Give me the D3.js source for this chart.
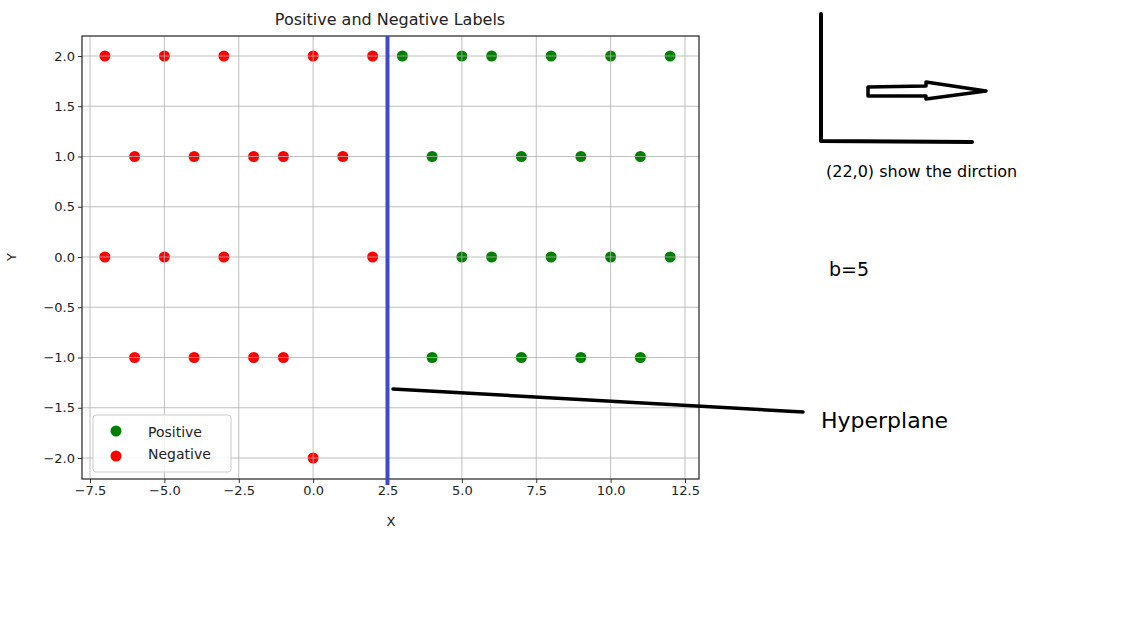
<!DOCTYPE html>
<html><head><meta charset="utf-8">
<script src="https://cdn.jsdelivr.net/npm/d3@7"></script>
<style>body{margin:0;background:#fff}text{font-family:"DejaVu Sans",sans-serif}</style>
</head><body>
<svg id="c" width="1129" height="638"></svg>
<script>
const posX=[3,5,6,8,10,12, 4,7,9,11, 5,6,8,10,12, 4,7,9,11];
const posY=[2,2,2,2,2,2, 1,1,1,1, 0,0,0,0,0, -1,-1,-1,-1];
const negX=[-7,-5,-3,0,2, -6,-4,-2,-1,1, -7,-5,-3,2, -6,-4,-2,-1, 0];
const negY=[2,2,2,2,2, 1,1,1,1,1, 0,0,0,0, -1,-1,-1,-1, -2];
const xTicks=[-7.5,-5,-2.5,0,2.5,5,7.5,10,12.5];
const yTicks=[-2,-1.5,-1,-0.5,0,0.5,1,1.5,2];
const hyperX=2.5;

const svg=d3.select("#c");
const L=82,R=699,T=36,B=479;
const x=d3.scaleLinear().domain([-7.5,12.5]).range([90,685]);
const y=d3.scaleLinear().domain([-2,2]).range([458,56]);
const fmt=d=>d3.format(".1f")(d).replace("-","\u2212");

const ax=svg.append("g").attr("transform",`translate(0,${B})`).call(d3.axisBottom(x).tickValues(xTicks).tickFormat(fmt).tickSizeOuter(0).tickSize(4));
const ay=svg.append("g").attr("transform",`translate(${L},0)`).call(d3.axisLeft(y).tickValues(yTicks).tickFormat(fmt).tickSizeOuter(0).tickSize(4));
[ax,ay].forEach(a=>{a.select(".domain").remove();a.selectAll("text").attr("font-size",13).attr("fill","#222");a.selectAll("line").attr("stroke","#333");});

const pts=svg.append("g");
pts.selectAll(".p").data(posX).join("circle").attr("cx",d=>x(d)).attr("cy",(d,i)=>y(posY[i])).attr("r",5.5).attr("fill","green");
pts.selectAll(".n").data(negX).join("circle").attr("cx",d=>x(d)).attr("cy",(d,i)=>y(negY[i])).attr("r",5.5).attr("fill","red");

const g=svg.append("g").attr("stroke","#b0b0b0").attr("stroke-opacity",0.8).attr("stroke-width",1);
xTicks.forEach(t=>g.append("line").attr("x1",x(t)).attr("x2",x(t)).attr("y1",T).attr("y2",B));
yTicks.forEach(t=>g.append("line").attr("x1",L).attr("x2",R).attr("y1",y(t)).attr("y2",y(t)));

svg.append("rect").attr("x",L).attr("y",T).attr("width",R-L).attr("height",B-T).attr("fill","none").attr("stroke","#222").attr("stroke-width",1.2);

svg.append("text").attr("x",390).attr("y",25).attr("text-anchor","middle").attr("font-size",16).attr("fill","#222").text("Positive and Negative Labels");
svg.append("text").attr("x",391).attr("y",526).attr("text-anchor","middle").attr("font-size",13).attr("fill","#222").text("X");
svg.append("text").attr("transform","translate(16,257) rotate(-90)").attr("text-anchor","middle").attr("font-size",13).attr("fill","#222").text("Y");

// legend
const lg=svg.append("g");
lg.append("rect").attr("x",93).attr("y",415).attr("width",138).attr("height",57).attr("rx",3).attr("fill","#fff").attr("fill-opacity",0.85).attr("stroke","#ccc");
lg.append("circle").attr("cx",116).attr("cy",431).attr("r",5.5).attr("fill","green");
lg.append("circle").attr("cx",116).attr("cy",456).attr("r",5.5).attr("fill","red");
lg.append("text").attr("x",148).attr("y",433).attr("font-size",14).attr("fill","#222").attr("dominant-baseline","middle").text("Positive");
lg.append("text").attr("x",148).attr("y",455).attr("font-size",14).attr("fill","#222").attr("dominant-baseline","middle").text("Negative");

// hyperplane
svg.append("line").attr("x1",x(hyperX)).attr("x2",x(hyperX)).attr("y1",T).attr("y2",485).attr("stroke","#4049c8").attr("stroke-width",4);

// annotations
const an=svg.append("g").attr("stroke","#000").attr("fill","none").attr("stroke-linecap","round").attr("stroke-linejoin","round");
an.append("path").attr("d","M393,389 L803,412").attr("stroke-width",3.5);
an.append("path").attr("d","M821,14 L821,141 L972,142").attr("stroke-width",4);
an.append("path").attr("d","M868,87 L926,86 L926,82 L986,91 L926,99 L926,96 L868,96 Z").attr("stroke-width",3.5);
svg.append("text").attr("x",821).attr("y",428).attr("font-size",22).attr("font-family","Open Sans").text("Hyperplane");
svg.append("text").attr("x",829).attr("y",276).attr("font-size",19).attr("font-family","Open Sans").text("b=5");
svg.append("text").attr("x",826).attr("y",177).attr("font-size",16).attr("font-family","Open Sans").text("(22,0) show the dirction");
</script>
</body></html>
